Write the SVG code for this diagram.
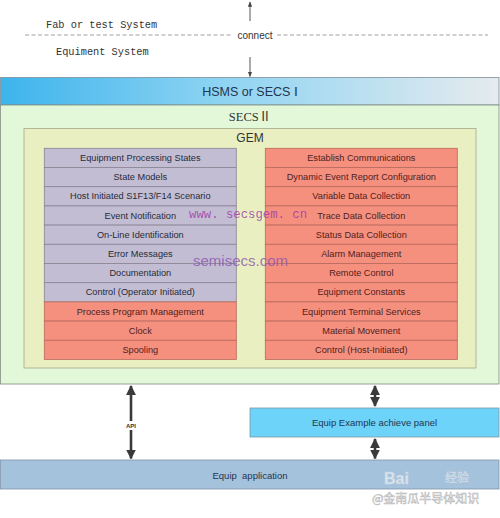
<svg xmlns="http://www.w3.org/2000/svg" width="500" height="518" viewBox="0 0 500 518">
<style>
.sys{font-family:"Liberation Mono",monospace;font-size:10.3px;fill:#333}
.lbl{font-family:"Liberation Sans",Arial,sans-serif;font-size:9.2px;text-anchor:middle}
.lt{fill:#262c38}
.rt{fill:#50201c}
.prow{fill:#c3bdd3;stroke:#8a8494;stroke-width:0.8}
.srow{fill:#f5907f;stroke:#b86a5e;stroke-width:0.8}
.dbl{stroke:#3a3a3a;stroke-width:2.6;fill:none}
</style>
<defs>
<linearGradient id="hsms" x1="0" y1="0" x2="1" y2="0">
<stop offset="0" stop-color="#3db4ec"/>
<stop offset="0.45" stop-color="#8fd4f2"/>
<stop offset="1" stop-color="#e6ebee"/>
</linearGradient>
<marker id="ah" viewBox="0 0 10 10" refX="9" refY="5" markerWidth="6" markerHeight="6" orient="auto-start-reverse">
<path d="M0,1 L10,5 L0,9 z" fill="#444"/>
</marker>
<marker id="bh" viewBox="0 0 10 10" refX="9" refY="5" markerWidth="3.8" markerHeight="3.8" orient="auto-start-reverse">
<path d="M0,0 L10,5 L0,10 z" fill="#3a3a3a"/>
</marker>
</defs>
<rect width="500" height="518" fill="#ffffff"/>

<g id="top-labels">
<text class="sys" x="46" y="27.5">Fab or test System</text>
<text class="sys" x="56" y="55">Equiment System</text>
<line x1="25" y1="35" x2="233" y2="35" stroke="#888" stroke-width="0.8" stroke-dasharray="4,2.5"/>
<line x1="277" y1="35" x2="488" y2="35" stroke="#888" stroke-width="0.8" stroke-dasharray="4,2.5"/>
<text x="255" y="38.5" font-family="Liberation Sans,Arial,sans-serif" font-size="10" text-anchor="middle" fill="#333">connect</text>
</g>

<g id="hsms-layer">
<rect x="0.5" y="77.5" width="498.5" height="27.5" fill="url(#hsms)" stroke="#7c8f99" stroke-width="0.8"/>
<text x="250" y="95.5" font-family="Liberation Sans,Arial,sans-serif" font-size="12.5" text-anchor="middle" fill="#1f3550">HSMS or SECS Ⅰ</text>
</g>

<g id="secs2-layer">
<rect x="0.5" y="105" width="498.5" height="279" fill="#e3f8d9" stroke="#7f8a80" stroke-width="0.8"/>
<text x="250" y="121" font-family="Liberation Serif,'Noto Sans CJK SC',serif" font-size="12.5" text-anchor="middle" fill="#333">SECSⅡ</text>
</g>

<g id="gem-layer">
<rect x="24" y="128.5" width="452" height="239.5" fill="#e9efc0" stroke="#a6a98a" stroke-width="0.8"/>
<text x="250" y="142" font-family="Liberation Sans,Arial,sans-serif" font-size="12" text-anchor="middle" fill="#333">GEM</text>
</g>

<g id="left-column">
<rect class="prow" x="44.3" y="148.3" width="192" height="19.2"/>
<rect class="prow" x="44.3" y="167.5" width="192" height="19.2"/>
<rect class="prow" x="44.3" y="186.7" width="192" height="19.2"/>
<rect class="prow" x="44.3" y="205.9" width="192" height="19.2"/>
<rect class="prow" x="44.3" y="225.1" width="192" height="19.2"/>
<rect class="prow" x="44.3" y="244.3" width="192" height="19.2"/>
<rect class="prow" x="44.3" y="263.5" width="192" height="19.2"/>
<rect class="prow" x="44.3" y="282.7" width="192" height="19.2"/>
<rect class="srow" x="44.3" y="301.9" width="192" height="19.2"/>
<rect class="srow" x="44.3" y="321.1" width="192" height="19.2"/>
<rect class="srow" x="44.3" y="340.3" width="192" height="19.2"/>
<text class="lbl lt" x="140.3" y="161">Equipment Processing States</text>
<text class="lbl lt" x="140.3" y="180.2">State Models</text>
<text class="lbl lt" x="140.3" y="199.4">Host Initiated S1F13/F14 Scenario</text>
<text class="lbl lt" x="140.3" y="218.6">Event Notification</text>
<text class="lbl lt" x="140.3" y="237.8">On-Line Identification</text>
<text class="lbl lt" x="140.3" y="257">Error Messages</text>
<text class="lbl lt" x="140.3" y="276.2">Documentation</text>
<text class="lbl lt" x="140.3" y="295.4">Control (Operator Initiated)</text>
<text class="lbl rt" x="140.3" y="314.6">Process Program Management</text>
<text class="lbl rt" x="140.3" y="333.8">Clock</text>
<text class="lbl rt" x="140.3" y="353">Spooling</text>
</g>

<g id="right-column">
<rect class="srow" x="265.3" y="148.3" width="192" height="19.2"/>
<rect class="srow" x="265.3" y="167.5" width="192" height="19.2"/>
<rect class="srow" x="265.3" y="186.7" width="192" height="19.2"/>
<rect class="srow" x="265.3" y="205.9" width="192" height="19.2"/>
<rect class="srow" x="265.3" y="225.1" width="192" height="19.2"/>
<rect class="srow" x="265.3" y="244.3" width="192" height="19.2"/>
<rect class="srow" x="265.3" y="263.5" width="192" height="19.2"/>
<rect class="srow" x="265.3" y="282.7" width="192" height="19.2"/>
<rect class="srow" x="265.3" y="301.9" width="192" height="19.2"/>
<rect class="srow" x="265.3" y="321.1" width="192" height="19.2"/>
<rect class="srow" x="265.3" y="340.3" width="192" height="19.2"/>
<text class="lbl rt" x="361.3" y="161">Establish Communications</text>
<text class="lbl rt" x="361.3" y="180.2">Dynamic Event Report Configuration</text>
<text class="lbl rt" x="361.3" y="199.4">Variable Data Collection</text>
<text class="lbl rt" x="361.3" y="218.6">Trace Data Collection</text>
<text class="lbl rt" x="361.3" y="237.8">Status Data Collection</text>
<text class="lbl rt" x="361.3" y="257">Alarm Management</text>
<text class="lbl rt" x="361.3" y="276.2">Remote Control</text>
<text class="lbl rt" x="361.3" y="295.4">Equipment Constants</text>
<text class="lbl rt" x="361.3" y="314.6">Equipment Terminal Services</text>
<text class="lbl rt" x="361.3" y="333.8">Material Movement</text>
<text class="lbl rt" x="361.3" y="353">Control (Host-Initiated)</text>
</g>

<g id="equip-panel">
<rect x="250" y="408" width="249" height="29" fill="#6dd3f8" stroke="#7a9aa8" stroke-width="0.8"/>
<text x="374.5" y="426" font-family="Liberation Sans,Arial,sans-serif" font-size="9.5" text-anchor="middle" fill="#1f3550">Equip Example achieve panel</text>
</g>

<g id="equip-app">
<rect x="0.5" y="460" width="498.5" height="29" fill="#a5c2dc" stroke="#7d93a8" stroke-width="0.8"/>
<text x="250" y="478.5" font-family="Liberation Sans,Arial,sans-serif" font-size="9.5" text-anchor="middle" fill="#1f3550" xml:space="preserve">Equip  application</text>
</g>

<g id="connectors">
<line x1="250" y1="21" x2="250" y2="2" stroke="#444" stroke-width="0.9" marker-end="url(#ah)"/>
<line x1="250" y1="57" x2="250" y2="76.5" stroke="#444" stroke-width="0.9" marker-end="url(#ah)"/>
<line class="dbl" x1="131" y1="386" x2="131" y2="458.5" marker-start="url(#bh)" marker-end="url(#bh)"/>
<rect x="123" y="421" width="16" height="9" fill="#ffffff"/>
<text x="131" y="428" font-family="Liberation Sans,Arial,sans-serif" font-size="6" font-weight="bold" text-anchor="middle" fill="#333">API</text>
<line class="dbl" x1="375" y1="386" x2="375" y2="406" marker-start="url(#bh)" marker-end="url(#bh)"/>
<line class="dbl" x1="375" y1="439" x2="375" y2="458.5" marker-start="url(#bh)" marker-end="url(#bh)"/>
</g>

<g id="watermarks">
<text x="189" y="218" font-family="Liberation Mono,monospace" font-size="12.3" fill="#a03ca8" fill-opacity="0.85">www. secsgem. cn</text>
<text x="193" y="266" font-family="Liberation Sans,Arial,sans-serif" font-size="15" fill="#8a55b0" fill-opacity="0.8">semisecs.com</text>
<text x="384" y="484" font-family="Liberation Sans,Arial,sans-serif" font-size="16" font-weight="bold" fill="#ffffff" fill-opacity="0.6" stroke="#c8d4de" stroke-width="0.5">Bai</text>
<text x="457" y="482" font-family="'Noto Sans CJK SC',sans-serif" font-size="12" fill="#ffffff" fill-opacity="0.6" stroke="#c8d4de" stroke-width="0.4" text-anchor="middle">经验</text>
<text x="372" y="503" font-family="'Noto Sans CJK SC',sans-serif" font-size="12" fill="#ffffff" stroke="#bbbbbb" stroke-width="0.6">@金南瓜半导体知识</text>
</g>
</svg>
